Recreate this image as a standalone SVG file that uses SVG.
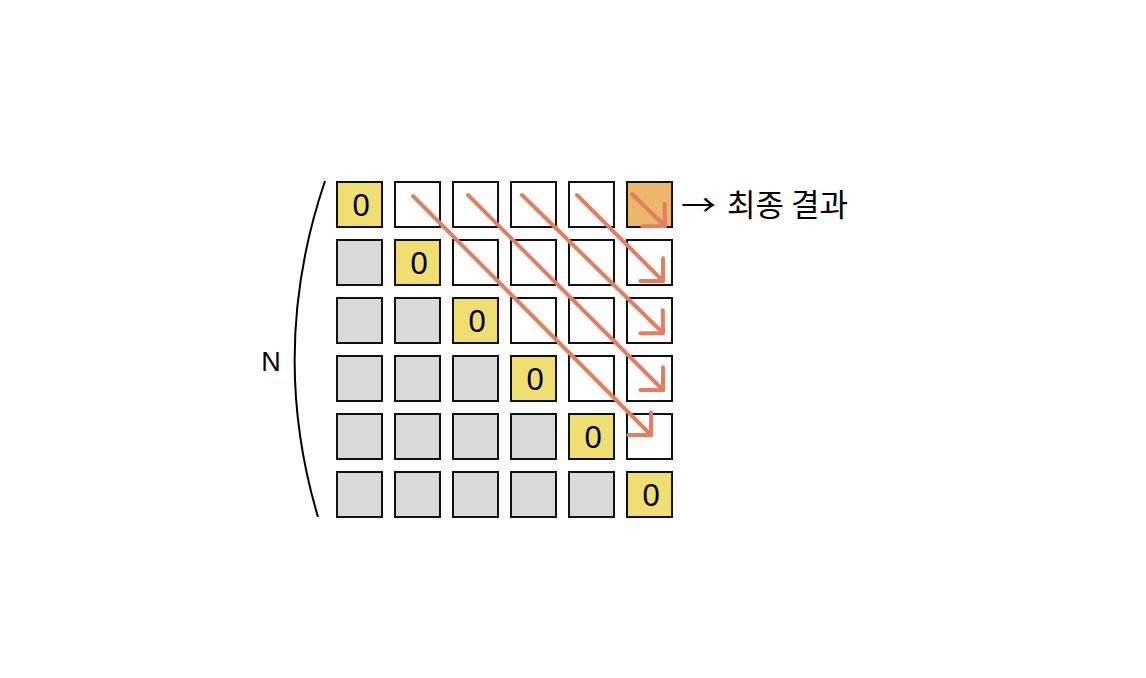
<svg xmlns="http://www.w3.org/2000/svg" width="1146" height="678" viewBox="0 0 1146 678">
<style>
.c{stroke:#111;stroke-width:2;fill:#fff}
.y{fill:#F1DE72}
.g{fill:#D9D9D9}
.o{fill:#ECB76B}
.t{font-family:"Liberation Sans",Arial,sans-serif;font-size:31px;fill:#000;text-anchor:middle}
.n{font-family:"Liberation Sans",Arial,sans-serif;font-size:27px;fill:#000;text-anchor:middle}
.a{stroke:#E57D62;stroke-width:4;fill:none;stroke-linecap:round;marker-end:url(#h)}
</style>
<defs>
<marker id="h" markerUnits="userSpaceOnUse" viewBox="-20 -20 24 40" refX="0" refY="0" markerWidth="24" markerHeight="40" orient="auto">
<polyline points="-16,-16 0,0 -16,16" fill="none" stroke="#E57D62" stroke-width="4" stroke-linecap="round" stroke-linejoin="round"/>
</marker>
</defs>
<rect width="1146" height="678" fill="#fff"/>
<g id="bracket"><path d="M325 181 Q268 349 318 517" fill="none" stroke="#000" stroke-width="2"/></g>
<g id="label-n"><text class="n" x="271" y="371">N</text></g>
<g id="row1">
<rect class="c y" x="337" y="182" width="45" height="45"/><text class="t" x="361" y="216">0</text>
<rect class="c" x="395" y="182" width="45" height="45"/>
<rect class="c" x="453" y="182" width="45" height="45"/>
<rect class="c" x="511" y="182" width="45" height="45"/>
<rect class="c" x="569" y="182" width="45" height="45"/>
<rect class="c o" x="627" y="182" width="45" height="45"/>
</g>
<g id="row2">
<rect class="c g" x="337" y="240" width="45" height="45"/>
<rect class="c y" x="395" y="240" width="45" height="45"/><text class="t" x="419" y="274">0</text>
<rect class="c" x="453" y="240" width="45" height="45"/>
<rect class="c" x="511" y="240" width="45" height="45"/>
<rect class="c" x="569" y="240" width="45" height="45"/>
<rect class="c" x="627" y="240" width="45" height="45"/>
</g>
<g id="row3">
<rect class="c g" x="337" y="298" width="45" height="45"/>
<rect class="c g" x="395" y="298" width="45" height="45"/>
<rect class="c y" x="453" y="298" width="45" height="45"/><text class="t" x="477" y="332">0</text>
<rect class="c" x="511" y="298" width="45" height="45"/>
<rect class="c" x="569" y="298" width="45" height="45"/>
<rect class="c" x="627" y="298" width="45" height="45"/>
</g>
<g id="row4">
<rect class="c g" x="337" y="356" width="45" height="45"/>
<rect class="c g" x="395" y="356" width="45" height="45"/>
<rect class="c g" x="453" y="356" width="45" height="45"/>
<rect class="c y" x="511" y="356" width="45" height="45"/><text class="t" x="535" y="390">0</text>
<rect class="c" x="569" y="356" width="45" height="45"/>
<rect class="c" x="627" y="356" width="45" height="45"/>
</g>
<g id="row5">
<rect class="c g" x="337" y="414" width="45" height="45"/>
<rect class="c g" x="395" y="414" width="45" height="45"/>
<rect class="c g" x="453" y="414" width="45" height="45"/>
<rect class="c g" x="511" y="414" width="45" height="45"/>
<rect class="c y" x="569" y="414" width="45" height="45"/><text class="t" x="593" y="448">0</text>
<rect class="c" x="627" y="414" width="45" height="45"/>
</g>
<g id="row6">
<rect class="c g" x="337" y="472" width="45" height="45"/>
<rect class="c g" x="395" y="472" width="45" height="45"/>
<rect class="c g" x="453" y="472" width="45" height="45"/>
<rect class="c g" x="511" y="472" width="45" height="45"/>
<rect class="c g" x="569" y="472" width="45" height="45"/>
<rect class="c y" x="627" y="472" width="45" height="45"/><text class="t" x="651" y="506">0</text>
</g>
<g id="connectors">
<line class="a" x1="413" y1="196" x2="651" y2="435"/>
<line class="a" x1="468" y1="195" x2="663" y2="390"/>
<line class="a" x1="522" y1="195" x2="663" y2="333"/>
<line class="a" x1="577" y1="195" x2="663" y2="281"/>
<line class="a" x1="632" y1="194" x2="665" y2="226"/>
</g>
<g id="result-label"><text y="216" style="font-family:'Noto Sans CJK KR','Noto Sans',sans-serif;font-size:31px;fill:#000"><tspan x="681" style="font-size:29px" textLength="35" lengthAdjust="spacingAndGlyphs">→</tspan><tspan x="727">최종 결과</tspan></text></g>
</svg>
